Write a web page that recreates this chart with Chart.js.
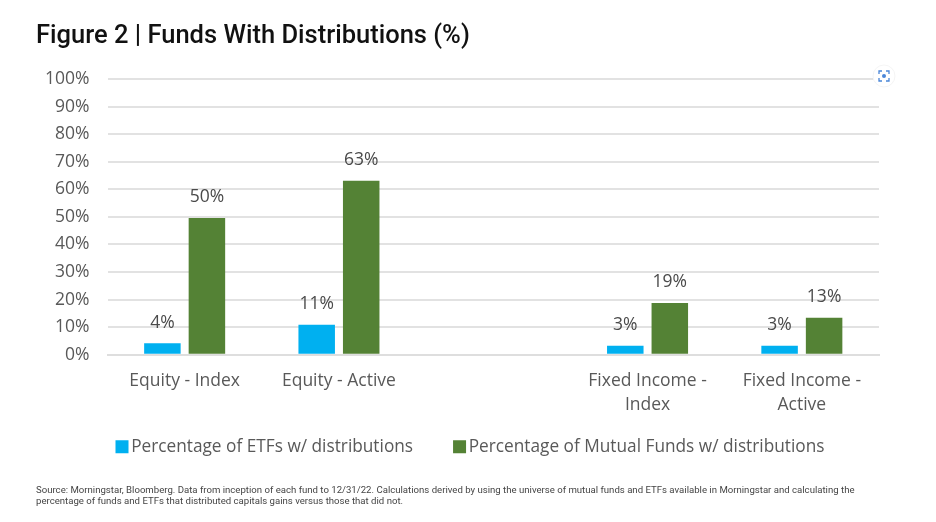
<!DOCTYPE html>
<html>
<head>
<meta charset="utf-8">
<script src="https://cdn.jsdelivr.net/npm/chart.js@4"></script>
<style>
html,body{margin:0;padding:0;background:#fff;overflow:hidden}
#wrap{position:relative;width:936px;height:522px}
canvas{display:block}
#icon{position:absolute;left:872px;top:64px;width:24px;height:24px}
</style>
</head>
<body>
<div id="wrap">
<canvas id="c" width="936" height="522"></canvas>
<svg id="icon" viewBox="0 0 24 24" role="img" aria-label="">
<circle cx="12" cy="12" r="11" fill="#fff" stroke="#f4f4f4"/>
<path d="M7 10V7h3M14 7h3v3M17 14v3h-3M10 17H7v-3" fill="none" stroke="#4a86d8" stroke-width="1.3"/>
<circle cx="12" cy="12" r="2" fill="#4a86d8"/>
</svg>
</div>
<script>
const titleText = 'Figure 2 | Funds With Distributions (%)';
const footnoteLines = [
  'Source: Morningstar, Bloomberg. Data from inception of each fund to 12/31/22. Calculations derived by using the universe of mutual funds and ETFs available in Morningstar and calculating the',
  'percentage of funds and ETFs that distributed capitals gains versus those that did not.'
];
const categories = [
  ['Equity - Index'],
  ['Equity - Active'],
  [''],
  ['Fixed Income -', 'Index'],
  ['Fixed Income -', 'Active']
];
const etfName = 'Percentage of ETFs w/ distributions';
const mfName = 'Percentage of Mutual Funds w/ distributions';
const etfValues = [4.2, 10.9, null, 3.3, 3.3];
const mfValues = [49.6, 63.1, null, 18.8, 13.4];
const etfColor = '#00B0F0';
const mfColor = '#548235';
const textFont = '"Open Sans"';

const barLabels = {
  id: 'barLabels',
  afterDatasetsDraw(chart) {
    const ctx = chart.ctx;
    ctx.save();
    ctx.font = '17.5px ' + textFont;
    ctx.fillStyle = '#4a4a4a';
    ctx.textAlign = 'center';
    ctx.textBaseline = 'middle';
    chart.data.datasets.forEach((ds, i) => {
      chart.getDatasetMeta(i).data.forEach((bar, j) => {
        if (ds.data[j] == null) return;
        ctx.fillText(Math.round(ds.data[j]) + '%', bar.x, bar.y - 20.5);
      });
    });
    ctx.restore();
  }
};
const placeLegend = {
  id: 'placeLegend',
  afterLayout(chart) {
    const lg = chart.legend;
    const w = lg.right - lg.left;
    const h = lg.bottom - lg.top;
    lg.left = 75.5;
    lg.right = lg.left + w;
    lg.top = 392;
    lg.bottom = lg.top + h;
  }
};

new Chart(document.getElementById('c'), {
  type: 'bar',
  data: {
    labels: categories,
    datasets: [
      { label: etfName, data: etfValues, backgroundColor: etfColor },
      { label: mfName, data: mfValues, backgroundColor: mfColor }
    ]
  },
  plugins: [barLabels, placeLegend],
  options: {
    responsive: false,
    animation: false,
    devicePixelRatio: 1,
    categoryPercentage: 0.577,
    barPercentage: 0.82,
    layout: { padding: { left: 36, right: 57, top: 0, bottom: 15 } },
    scales: {
      x: {
        grid: { display: false },
        border: { color: '#dedede', width: 2 },
        afterFit(s) { s.height = 57.5; },
        ticks: {
          color: '#595959',
          font: { family: textFont, size: 17.5, lineHeight: 1.37 },
          padding: 6,
          maxRotation: 0,
          autoSkip: false
        }
      },
      y: {
        min: 0,
        max: 100,
        afterFit(s) { s.width = 71.5; },
        grid: { color: '#e2e2e2', lineWidth: 2, drawTicks: false },
        border: { display: false },
        ticks: {
          stepSize: 10,
          color: '#595959',
          padding: 18,
          font: { family: textFont, size: 17.5 },
          callback: v => v + '%'
        }
      }
    },
    plugins: {
      tooltip: { enabled: false },
      title: {
        display: true,
        text: titleText,
        align: 'start',
        color: '#111111',
        font: { family: 'Roboto', size: 25.5, weight: '500', lineHeight: 1.2 },
        padding: { top: 21.4, bottom: 27 }
      },
      subtitle: {
        display: true,
        position: 'bottom',
        text: footnoteLines,
        align: 'start',
        color: '#444444',
        font: { family: 'Roboto', size: 9.6, lineHeight: 1.12 },
        padding: { top: 0, bottom: 0 }
      },
      legend: {
        position: 'bottom',
        align: 'start',
        labels: {
          padding: 46,
          boxWidth: 1,
          boxHeight: 1,
          color: '#595959',
          font: { family: textFont, size: 17.25 },
          generateLabels(chart) {
            return chart.data.datasets.map((ds, i) => ({
              text: ds.label,
              fillStyle: ds.backgroundColor,
              strokeStyle: ds.backgroundColor,
              lineWidth: 12,
              fontColor: '#595959',
              datasetIndex: i
            }));
          }
        }
      }
    }
  }
});
</script>
</body>
</html>
